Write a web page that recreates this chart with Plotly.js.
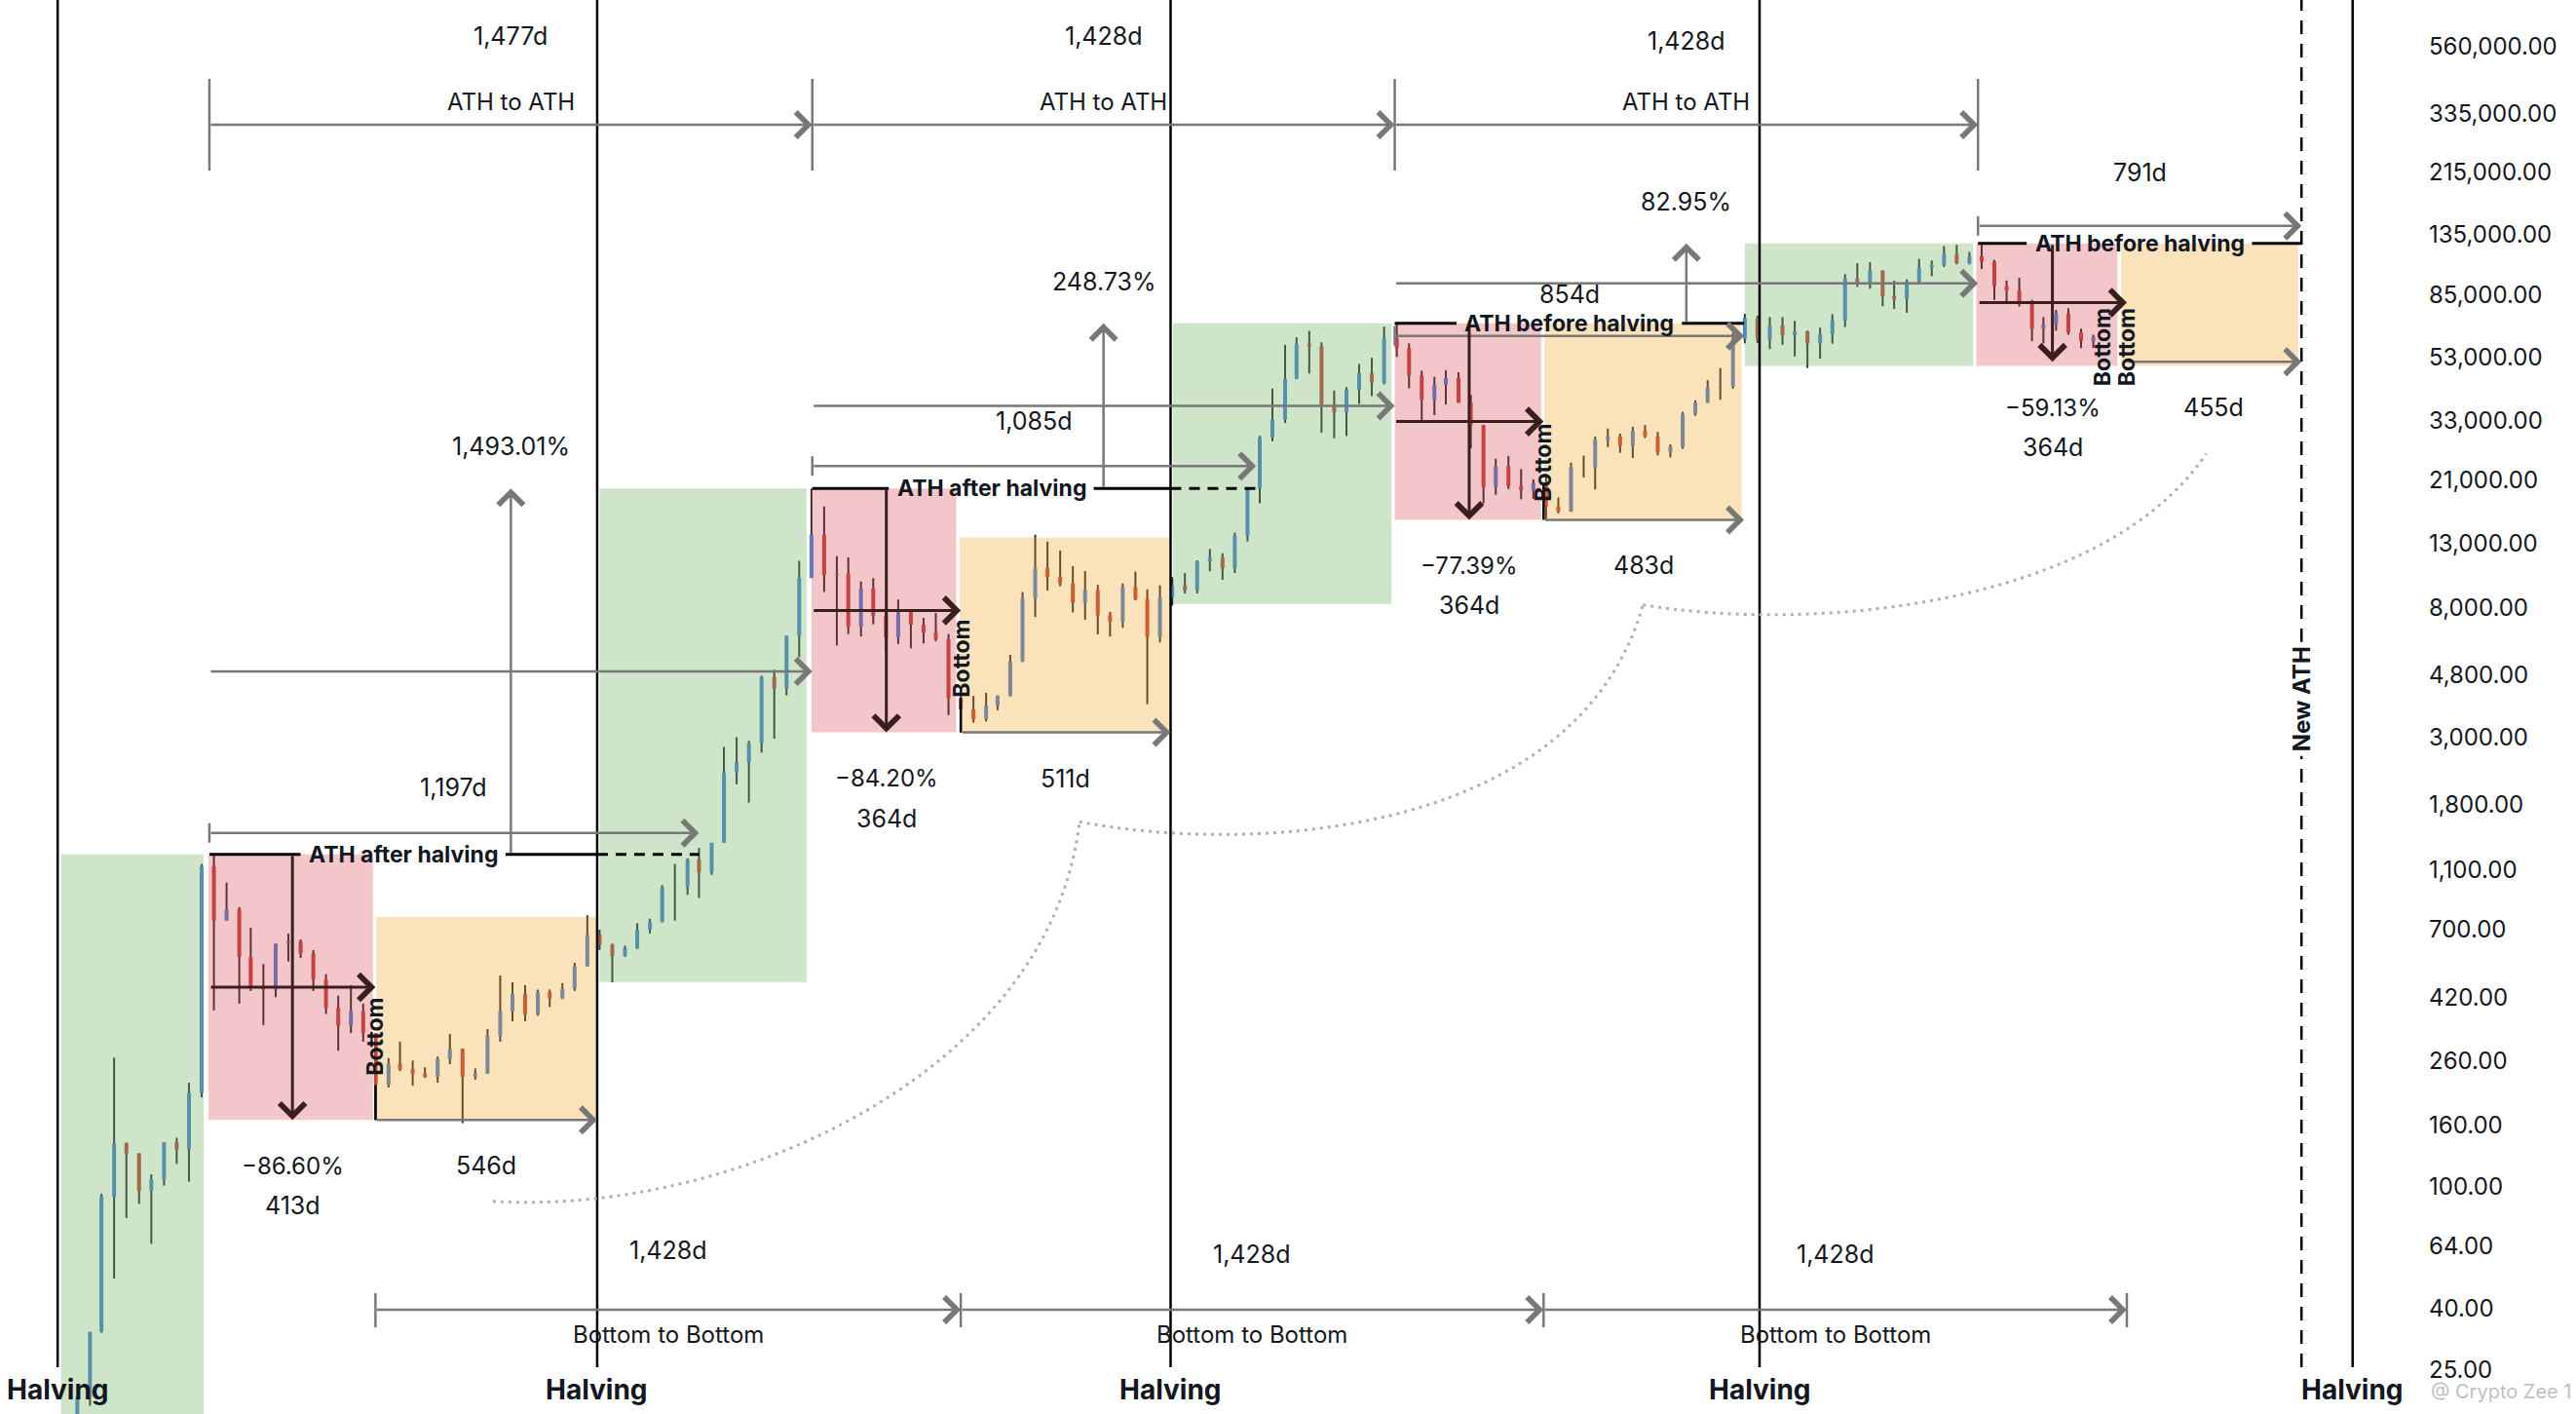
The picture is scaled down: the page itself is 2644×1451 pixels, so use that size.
<!DOCTYPE html>
<html>
<head>
<meta charset="utf-8">
<script src="https://cdn.plot.ly/plotly-3.0.1.min.js"></script>
<style>
  html, body { margin: 0; padding: 0; background: #fff; }
  #chart { width: 2644px; height: 1451px; }
</style>
</head>
<body>
<div id="chart"></div>
<script>
// monthly BTC bars, Jan 2013 onward (one row per year)
const OPEN = [
  13.3, 20.4, 33.4, 93, 139, 129, 97, 106, 140, 133, 204, 1130,
  750, 815, 570, 455, 445, 628, 640, 585, 480, 387, 338, 378,
  320, 217, 254, 244, 236, 230, 263, 284, 230, 236, 314, 377,
  430, 368, 437, 416, 448, 531, 673, 624, 573, 608, 700, 742,
  964, 965, 1190, 1080, 1350, 2300, 2480, 2870, 4730, 4340, 6450, 10000,
  13880, 10220, 10330, 6930, 9240, 7500, 6390, 7730, 7030, 6630, 6300, 4030,
  3700, 3440, 3810, 4100, 5320, 8580, 10800, 10100, 9590, 8290, 9150, 7550,
  7190, 9350, 8530, 6410, 8630, 9450, 9140, 11330, 11660, 10780, 13800, 19700,
  28990, 33110, 45140, 58800, 57700, 37300, 35040, 41460, 47130, 43820, 61300, 57000,
  46300, 38480, 43160, 45500, 37640, 31800, 19940, 23300, 20050, 19430, 20500, 17170,
  16550, 23130, 23140, 28470, 29250, 27220, 30470, 29230, 25940, 26970, 34650, 37720,
  42280, 42580, 61130, 71330, 60640, 67500, 62680, 64620, 58970, 63330, 70220, 96400,
  93430, 102400, 84350, 82550, 94200, 104600, 107100, 115800, 108200, 114000, 109500, 91000,
  88000, 80000, 66000, 68000, 74000, 64000, 60000
];
const HIGH = [
  20.4, 33.4, 95, 266, 140, 129, 110, 140, 145, 220, 1150, 1237,
  1000, 830, 710, 540, 630, 680, 650, 600, 500, 425, 460, 400,
  320, 265, 300, 260, 247, 268, 318, 285, 245, 330, 495, 470,
  460, 445, 445, 467, 545, 780, 700, 630, 620, 735, 760, 980,
  1150, 1200, 1300, 1350, 2790, 3000, 2920, 4780, 5000, 6470, 11400, 19700,
  17200, 11800, 11700, 9750, 10000, 7760, 8500, 7750, 7400, 7680, 6550, 4300,
  4100, 4200, 4120, 5600, 9000, 13880, 13180, 12320, 10950, 10540, 9500, 7750,
  9600, 10500, 9180, 9470, 10070, 10380, 11440, 12470, 12070, 14100, 19900, 29300,
  41950, 58350, 61780, 64850, 59500, 41300, 42400, 50500, 52900, 67000, 68700, 59050,
  47990, 45800, 48200, 47440, 40000, 31900, 24670, 25200, 22800, 21100, 21450, 18400,
  23950, 25250, 29200, 31000, 29820, 31430, 31800, 30200, 27500, 35200, 38400, 44700,
  49000, 64000, 73800, 72800, 72000, 72000, 70000, 65000, 66500, 73600, 99600, 108300,
  109100, 102500, 95000, 95700, 111900, 110500, 123200, 124400, 117900, 125700, 111000, 95000,
  97000, 82000, 72000, 76000, 77000, 66000, 63000
];
const LOW = [
  12.9, 19.1, 33.2, 50, 79, 88, 65, 101, 119, 104, 197, 380,
  750, 400, 440, 340, 420, 550, 565, 440, 370, 280, 320, 300,
  166, 212, 240, 215, 228, 220, 253, 162, 225, 235, 300, 350,
  350, 365, 390, 414, 440, 530, 600, 470, 570, 605, 680, 740,
  750, 910, 890, 1060, 1350, 2100, 1830, 2670, 2970, 4120, 5500, 10900,
  9000, 6000, 6550, 6430, 7050, 5780, 6070, 5880, 6100, 6200, 3550, 3113,
  3350, 3380, 3680, 4090, 5300, 7450, 9100, 9400, 7710, 7300, 6530, 6430,
  6860, 8450, 3850, 6150, 8120, 8900, 8900, 10530, 9870, 10380, 13200, 17600,
  28130, 32300, 45000, 47000, 30000, 28800, 29280, 37330, 39600, 43300, 53250, 42000,
  32950, 34320, 37150, 37700, 26700, 17600, 18780, 19600, 18150, 18200, 15533, 16300,
  16500, 21400, 19550, 26940, 25800, 24800, 28850, 25300, 24900, 26560, 34100, 37600,
  38500, 41880, 59000, 59200, 56550, 58400, 53500, 49000, 52600, 58900, 66800, 90500,
  89200, 78200, 76600, 74400, 93300, 98200, 105100, 107300, 107300, 103500, 82000, 80000,
  78000, 60000, 59000, 65000, 63000, 57000, 57000
];
const CLOSE = [
  20.4, 33.4, 93, 139, 129, 97, 106, 140, 133, 204, 1130, 750,
  815, 570, 455, 445, 628, 640, 585, 480, 387, 338, 378, 320,
  217, 254, 244, 236, 230, 263, 284, 230, 236, 314, 377, 430,
  368, 437, 416, 448, 531, 673, 624, 573, 608, 700, 742, 964,
  965, 1190, 1080, 1350, 2300, 2480, 2870, 4730, 4340, 6450, 10000, 13880,
  10220, 10330, 6930, 9240, 7500, 6390, 7730, 7030, 6630, 6300, 4030, 3700,
  3440, 3810, 4100, 5320, 8580, 10800, 10100, 9590, 8290, 9150, 7550, 7190,
  9350, 8530, 6410, 8630, 9450, 9140, 11330, 11660, 10780, 13800, 19700, 28990,
  33110, 45140, 58800, 57700, 37300, 35040, 41460, 47130, 43820, 61300, 57000, 46300,
  38480, 43160, 45500, 37640, 31800, 19940, 23300, 20050, 19430, 20500, 17170, 16550,
  23130, 23140, 28470, 29250, 27220, 30470, 29230, 25940, 26970, 34650, 37720, 42280,
  42580, 61130, 71330, 60640, 67500, 62680, 64620, 58970, 63330, 70220, 96400, 93430,
  102400, 84350, 82550, 94200, 104600, 107100, 115800, 108200, 114000, 109500, 91000, 88000,
  80000, 66000, 68000, 74000, 64000, 60000, 62000
];

const HALVINGS = ['2012-11-28', '2016-07-09', '2020-05-11', '2024-04-20', '2028-04-09'];
const ATH_DATES = ['2013-12-04', '2017-12-17', '2021-11-10', '2025-10-06'];
const ATH_PRICES = [1237, 19700, 68700, 125700];
const BOTTOM_DATES = ['2015-01-14', '2018-12-15', '2022-11-09', '2026-10-05'];
const BOTTOM_PRICES = [165.8, 3113, 15533, 51374];
const RECLAIM_DATES = ['2017-03-15', '2020-12-06', '2024-03-13'];
const NEW_ATH_DATE = '2027-12-06';

const ATH_TO_ATH = ['1,477d', '1,428d', '1,428d'];
const BOTTOM_TO_BOTTOM = ['1,428d', '1,428d', '1,428d'];
const ATH_GAINS = ['1,493.01%', '248.73%', '82.95%'];
const DRAWDOWNS = ['\u221286.60%', '\u221284.20%', '\u221277.39%', '\u221259.13%'];
const BEAR_DAYS = ['413d', '364d', '364d', '364d'];
const RECOVERY_DAYS = ['546d', '511d', '483d', '455d'];
const RECLAIM_DAYS = ['1,197d', '1,085d', '854d', '791d'];
const ATH_LABELS = ['ATH after halving', 'ATH after halving', 'ATH before halving', 'ATH before halving'];

// [start, end, low, high]
const BULL_ZONES = [
  ['2012-12-06', '2013-11-20', 10, 1237],
  ['2016-07-15', '2017-12-03', 471, 19700],
  ['2020-05-17', '2021-11-02', 8217, 68700],
  ['2024-03-15', '2025-09-24', 49800, 125700]
];
const BEAR_ZONES = [
  ['2013-12-02', '2015-01-08', 165.8, 1237],
  ['2017-12-15', '2018-12-04', 3113, 19700],
  ['2021-11-10', '2022-11-03', 15533, 68700],
  ['2025-10-02', '2026-09-12', 49800, 125700]
];
const ACCUM_ZONES = [
  ['2015-01-16', '2016-07-07', 165.8, 770],
  ['2018-12-12', '2020-05-09', 3113, 13600],
  ['2022-11-11', '2024-03-07', 15533, 68700],
  ['2026-09-21', '2027-11-28', 49800, 125700]
];

// dotted guide curves, cubic bezier points [date, price]
const GUIDE_ARCS = [
  [['2015-10-28', 89.7], ['2017-06-22', 80.2], ['2019-07-26', 245.6], ['2019-10-01', 1584]],
  [['2019-10-01', 1584], ['2020-11-18', 1236], ['2023-01-30', 1399], ['2023-07-10', 8173]],
  [['2023-07-10', 8173], ['2024-08-14', 6614], ['2026-08-07', 7972], ['2027-04-17', 25640]]
];

const Y_TICKS = [25, 40, 64, 100, 160, 260, 420, 700, 1100, 1800, 3000, 4800, 8000,
  13000, 21000, 33000, 53000, 85000, 135000, 215000, 335000, 560000];

// ---- geometry helpers ----
const W = 2644, H = 1451, MR = 160;
const X_RANGE = ['2012-07-10', '2028-09-21'];
const Y_RANGE = [1.254, 5.899];
const DAY = 864e5;
const PX_PER_DAY = (W - MR) / ((Date.parse(X_RANGE[1]) - Date.parse(X_RANGE[0])) / DAY);
const PX_PER_DEC = H / (Y_RANGE[1] - Y_RANGE[0]);

const iso = t => new Date(t).toISOString().slice(0, 10);
const mid = (a, b) => iso((Date.parse(a) + Date.parse(b)) / 2);
const shiftPx = (d, px) => iso(Date.parse(d) + px / PX_PER_DAY * DAY);
const gmean = (a, b) => Math.sqrt(a * b);
const lift = (p, px) => p * Math.pow(10, px / PX_PER_DEC);
const fromTop = px => 1 - px / H;

const FONT = 'Inter, "Open Sans", sans-serif';
const INK = '#131722';
const GRAY = '#787878';
const DARK = '#3a1f1f';
const BOLD_SIZE = 23;

const measure = document.createElement('canvas').getContext('2d');
function textWidth(txt, font) {
  measure.font = font;
  return measure.measureText(txt).width;
}

// ---- traces ----
const months = OPEN.map((_, i) => {
  const y = 2013 + Math.floor(i / 12);
  const m = String(i % 12 + 1).padStart(2, '0');
  return y + '-' + m + '-15';
});
const bodyHigh = OPEN.map((o, i) => Math.max(o, CLOSE[i]));
const bodyLow = OPEN.map((o, i) => Math.min(o, CLOSE[i]));

const wicks = {
  type: 'ohlc', x: months, open: OPEN, high: HIGH, low: LOW, close: CLOSE,
  tickwidth: 0, hoverinfo: 'skip',
  increasing: { line: { color: '#2c2c2c', width: 2 } },
  decreasing: { line: { color: '#2c2c2c', width: 2 } }
};
const bodies = {
  type: 'ohlc', x: months, open: OPEN, high: bodyHigh, low: bodyLow, close: CLOSE,
  tickwidth: 0, hoverinfo: 'skip',
  increasing: { line: { color: '#4a7fd0', width: 4 } },
  decreasing: { line: { color: '#c0413b', width: 4 } }
};

// ---- shapes ----
const shapes = [];
function zone(z, fill) {
  shapes.push({ type: 'rect', xref: 'x', yref: 'y', x0: z[0], x1: z[1], y0: z[2], y1: z[3],
    fillcolor: fill, line: { width: 0 }, layer: 'above' });
}
function seg(x0, x1, y0, y1, color, width, dash, yref) {
  shapes.push({ type: 'line', xref: 'x', yref: yref || 'y', x0: x0, x1: x1, y0: y0, y1: y1,
    line: { color: color, width: width, dash: dash || 'solid' }, layer: 'above' });
}

BULL_ZONES.forEach(z => zone(z, 'rgba(110,180,100,0.34)'));
BEAR_ZONES.forEach(z => zone(z, 'rgba(215,65,80,0.30)'));
ACCUM_ZONES.forEach(z => zone(z, 'rgba(240,160,30,0.30)'));

HALVINGS.forEach(d => seg(d, d, fromTop(1403), 1, '#000', 2.5, 'solid', 'paper'));
seg(NEW_ATH_DATE, NEW_ATH_DATE, fromTop(1403), 1, '#000', 2.5, '14px,10px', 'paper');

const LINE_ENDS = [HALVINGS[1], HALVINGS[2], RECLAIM_DATES[2], NEW_ATH_DATE];
const RECLAIM_ENDS = [RECLAIM_DATES[0], RECLAIM_DATES[1], RECLAIM_DATES[2], NEW_ATH_DATE];
const RECOVERY_ENDS = [HALVINGS[1], HALVINGS[2], RECLAIM_DATES[2], NEW_ATH_DATE];
const RECLAIM_SHIFT = [22, 23, -13, 18];
const RECLAIM_LABEL_SHIFT = [69, 69, 30, 73];
const BOTTOM_LABEL_SHIFT = [86, 76, 59, 15];

ATH_DATES.forEach((d, i) => {
  const p = ATH_PRICES[i];
  const c = mid(d, LINE_ENDS[i]);
  const half = textWidth(ATH_LABELS[i], 'bold ' + BOLD_SIZE + 'px Inter') / 2 + 8;
  seg(d, shiftPx(c, -half), p, p, '#000', 3);
  seg(shiftPx(c, half), LINE_ENDS[i], p, p, '#000', 3);
  if (i < 2) seg(HALVINGS[i + 1], RECLAIM_DATES[i], p, p, '#000', 3, '11px,8px');
  // start tick of the reclaim measure
  const s = RECLAIM_SHIFT[i];
  seg(d, d, lift(p, s - 10), lift(p, s + 10), GRAY, 2.5);
});

ATH_DATES.forEach(d => seg(d, d, fromTop(175), fromTop(81), GRAY, 2.5, 'solid', 'paper'));
BOTTOM_DATES.forEach(d => seg(d, d, fromTop(1362), fromTop(1327), GRAY, 2.5, 'solid', 'paper'));
BOTTOM_DATES.slice(0, 3).forEach((d, i) =>
  seg(d, d, BOTTOM_PRICES[i], lift(BOTTOM_PRICES[i], 36), '#000', 2.5));

GUIDE_ARCS.forEach(a => {
  const pt = q => q[0] + ',' + q[1];
  shapes.push({ type: 'path', xref: 'x', yref: 'y', layer: 'above',
    path: 'M' + pt(a[0]) + ' C' + pt(a[1]) + ' ' + pt(a[2]) + ' ' + pt(a[3]),
    line: { color: '#b0b0b0', width: 3, dash: '3px,5px' } });
});

// ---- annotations ----
const ann = [];
function arrow(x0, y0, x1, y1, color, extra) {
  ann.push(Object.assign({
    x: x1, y: Math.log10(y1), ax: x0, ay: Math.log10(y0),
    xref: 'x', yref: 'y', axref: 'x', ayref: 'y',
    text: '', showarrow: true, arrowhead: 4, arrowsize: 2, arrowwidth: 2.5,
    arrowcolor: color, standoff: 0, startstandoff: 0
  }, extra || {}));
}
function paperArrow(x0, x1, yp) {
  ann.push({ x: x1, y: yp, xref: 'x', yref: 'paper', ax: x0, axref: 'x', ay: 0, ayref: 'pixel',
    text: '', showarrow: true, arrowhead: 4, arrowsize: 2, arrowwidth: 2.5,
    arrowcolor: GRAY, standoff: 0, startstandoff: 0 });
}
function label(text, x, y, opts) {
  const o = opts || {};
  ann.push(Object.assign({
    text: text, x: x, y: o.paper ? y : Math.log10(y), xref: 'x', yref: o.paper ? 'paper' : 'y',
    showarrow: false, xanchor: 'center', yanchor: 'middle',
    font: { family: FONT, size: o.size || 24, color: INK, weight: o.bold ? 700 : 400 }
  }, o.extra || {}));
}

for (let i = 0; i < 3; i++) {
  const a = ATH_DATES[i], b = ATH_DATES[i + 1];
  paperArrow(a, b, fromTop(128));
  label(ATH_TO_ATH[i], mid(a, b), fromTop(i === 2 ? 42 : 37), { paper: true, size: 25 });
  label('ATH to ATH', mid(a, b), fromTop(104.5), { paper: true });

  const ba = BOTTOM_DATES[i], bb = BOTTOM_DATES[i + 1];
  paperArrow(ba, bb, fromTop(1344));
  label(BOTTOM_TO_BOTTOM[i], mid(ba, bb), fromTop(i === 0 ? 1283 : 1287), { paper: true, size: 25 });
  label('Bottom to Bottom', mid(ba, bb), fromTop(1369), { paper: true });

  // price range between consecutive ATHs
  const mx = mid(a, b);
  arrow(mx, ATH_PRICES[i], mx, ATH_PRICES[i + 1], GRAY);
  const gm = gmean(ATH_PRICES[i], ATH_PRICES[i + 1]);
  arrow(a, gm, b, gm, GRAY);
  label(ATH_GAINS[i], mx, ATH_PRICES[i + 1], { size: 25, extra: { yshift: 43 } });
}

for (let i = 0; i < 4; i++) {
  const d = ATH_DATES[i], p = ATH_PRICES[i];
  const bd = BOTTOM_DATES[i], bp = BOTTOM_PRICES[i];

  arrow(d, p, RECLAIM_ENDS[i], p, GRAY, { yshift: RECLAIM_SHIFT[i] });
  label(RECLAIM_DAYS[i], mid(d, RECLAIM_ENDS[i]), p, { size: 25, extra: { yshift: RECLAIM_LABEL_SHIFT[i] } });

  const vx = mid(d, bd);
  arrow(vx, p, vx, bp, DARK, { arrowwidth: 3, arrowsize: 1.7 });
  const gm = gmean(p, bp);
  arrow(d, gm, bd, gm, DARK, { arrowwidth: 3, arrowsize: 1.7 });
  label(DRAWDOWNS[i], vx, bp, { extra: { yshift: -47 } });
  label(BEAR_DAYS[i], vx, bp, { size: 25, extra: { yshift: -88 } });

  arrow(bd, bp, RECOVERY_ENDS[i], bp, GRAY);
  label(RECOVERY_DAYS[i], mid(bd, RECOVERY_ENDS[i]), bp, { size: 25, extra: { yshift: -47 } });

  label(ATH_LABELS[i], mid(d, LINE_ENDS[i]), p, { bold: true, size: BOLD_SIZE });
  label('Bottom', bd, bp, { bold: true, size: BOLD_SIZE, extra: { textangle: -90, yshift: BOTTOM_LABEL_SHIFT[i] } });
}
label('Bottom', BOTTOM_DATES[3], BOTTOM_PRICES[3], { bold: true, size: BOLD_SIZE,
  extra: { textangle: -90, yshift: BOTTOM_LABEL_SHIFT[3], xshift: -25 } });

label('New ATH', NEW_ATH_DATE, fromTop(717), { paper: true, bold: true, size: 24,
  extra: { textangle: -90, bgcolor: '#ffffff', borderpad: 4 } });

HALVINGS.forEach(d => label('Halving', d, fromTop(1426), { paper: true, bold: true, size: 28 }));

ann.push({ text: '@ Crypto Zee 1', xref: 'paper', yref: 'paper', x: 1 + (2642 - (W - MR)) / (W - MR),
  y: fromTop(1428), xanchor: 'right', yanchor: 'middle', showarrow: false,
  font: { family: FONT, size: 20, color: 'rgba(170,170,170,0.75)' } });

const layout = {
  width: W, height: H,
  margin: { l: 0, r: MR, t: 0, b: 0 },
  paper_bgcolor: '#ffffff', plot_bgcolor: '#ffffff',
  showlegend: false, hovermode: false, dragmode: false,
  font: { family: FONT, color: INK },
  xaxis: {
    type: 'date', range: X_RANGE, showgrid: false, zeroline: false, showline: false,
    showticklabels: false, ticks: '', rangeslider: { visible: false }, fixedrange: true
  },
  yaxis: {
    type: 'log', range: Y_RANGE, side: 'right', showgrid: false, zeroline: false, showline: false,
    ticks: '', tickvals: Y_TICKS,
    ticktext: Y_TICKS.map(v => v.toLocaleString('en-US', { minimumFractionDigits: 2, maximumFractionDigits: 2 })),
    tickfont: { family: FONT, size: 24, color: INK }, ticklabelstandoff: 8, fixedrange: true
  },
  shapes: shapes,
  annotations: ann
};

Plotly.newPlot('chart', [wicks, bodies], layout, { displayModeBar: false, staticPlot: true })
  .catch(err => console.error('Error rendering chart:', err));
</script>
</body>
</html>
